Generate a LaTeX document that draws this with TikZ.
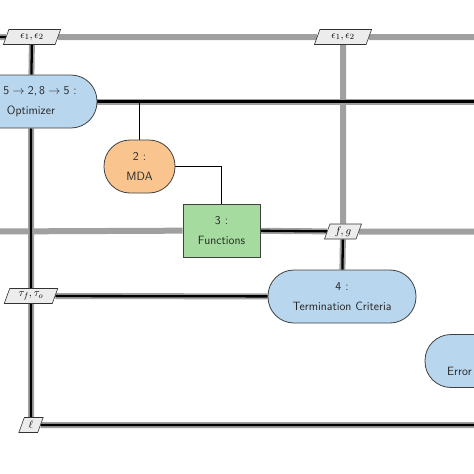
\documentclass[tikz,border=0pt]{standalone}
\usetikzlibrary{shapes.geometric, positioning}

\definecolor{optblue}{RGB}{184,214,238}
\definecolor{mdaorange}{RGB}{250,196,142}
\definecolor{funcgreen}{RGB}{166,219,160}
\definecolor{linegray}{RGB}{160,160,160}
\definecolor{labelgray}{RGB}{236,236,236}

\pgfdeclarelayer{data}
\pgfdeclarelayer{proc}
\pgfsetlayers{data,proc,main}

\begin{document}
\begin{tikzpicture}[
    x=1pt, y=-1pt,
    comp/.style={
        draw=black!75, line width=0.8pt,
        minimum height=53pt, inner sep=2pt,
        align=center, text=black!85,
        font=\sffamily\fontsize{12}{20}\selectfont
    },
    optim/.style={comp, rectangle, rounded corners=26pt, fill=optblue},
    mdabox/.style={comp, rectangle, rounded corners=26pt, fill=mdaorange},
    funcbox/.style={comp, rectangle, fill=funcgreen},
    varlabel/.style={
        trapezium, trapezium left angle=70, trapezium right angle=110,
        draw=black!80, line width=0.6pt, fill=labelgray,
        inner xsep=2pt, inner ysep=1pt, minimum height=15pt,
        font=\fontsize{11}{13}\selectfont
    },
    dataline/.style={draw=linegray, line width=6pt},
    procline/.style={draw=black, line width=2.3pt},
    thinproc/.style={draw=black, line width=1.4pt}
]
\useasboundingbox (0,0) rectangle (474,474);
\clip (0,0) rectangle (474,474);

% Components
\node[optim, minimum width=132pt] (opt) at (31,101.5)
    {\hspace*{18pt}5\;$\to$\;2,\,8\;$\to$\;5 :\\Optimizer};
\node[mdabox, minimum width=71pt] (mda) at (139.5,166.5) {2 :\\MDA};
\node[funcbox, minimum width=77pt] (func) at (221.5,230.5) {3 :\\Functions};
\node[optim, minimum width=148pt] (term) at (342,296.5) {4 :\\Termination Criteria};
\node[optim, minimum width=150pt] (err) at (500,361) {};
\node[font=\sffamily\fontsize{12}{20}\selectfont, text=black!85,
      anchor=base west, inner sep=0pt] (errtxt) at (447,375) {Error};

% Data labels
\node[varlabel] (eps1) at (32,37) {$\epsilon_1, \epsilon_2$};
\node[varlabel] (eps2) at (343,37) {$\epsilon_1, \epsilon_2$};
\node[varlabel] (fg) at (343,231.5) {$f, g$};
\node[varlabel] (tau) at (31,296) {$\tau_f, \tau_o$};
\node[varlabel] (ell) at (31,425) {$\ell$};

% Free ends beyond the edges
\coordinate (topin) at (-10,37);
\coordinate (topout) at (490,37);
\coordinate (optout) at (490,101.5);
\coordinate (midin) at (-10,231.5);
\coordinate (midout) at (490,231.5);
\coordinate (botout) at (490,425);

% Data connections
\begin{pgfonlayer}{data}
\clip (0,0) rectangle (474,474);
\draw[dataline] (topin) -- (eps1) -- (eps2) -- (topout);
\draw[dataline] (eps1) -- (opt) -- (tau) -- (ell);
\draw[dataline] (eps2) -- (fg) -- (term);
\draw[dataline] (opt) -- (optout);
\draw[dataline] (midin) -- (func) -- (fg) -- (midout);
\draw[dataline] (tau) -- (term);
\draw[dataline] (ell) -- (botout);
\end{pgfonlayer}

% Process connections
\begin{pgfonlayer}{proc}
\clip (0,0) rectangle (474,474);
\draw[procline] (topin) -- (eps1);
\draw[procline] (eps1) -- (opt) -- (tau) -- (ell);
\draw[procline] (opt) -- (optout);
\draw[thinproc] (opt.east) -| (mda.north);
\draw[thinproc] (mda.east) -| (func.north);
\draw[procline] (func) -- (fg) -- (term);
\draw[procline] (tau) -- (term);
\draw[procline] (ell) -- (botout);
\end{pgfonlayer}

\end{tikzpicture}
\end{document}
